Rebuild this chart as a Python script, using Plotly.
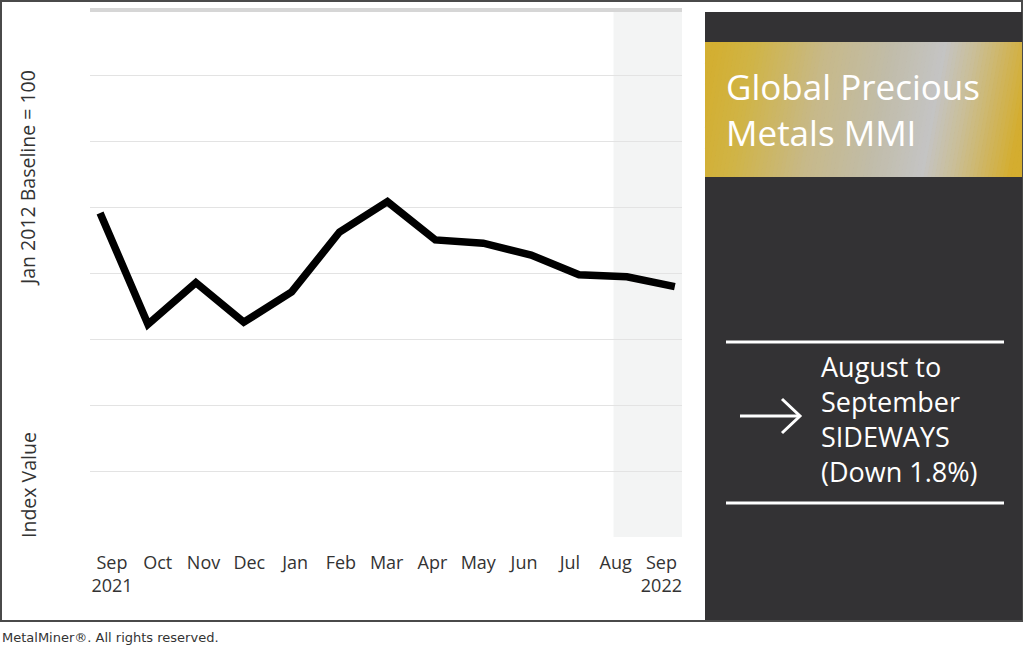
import plotly.graph_objects as go

# ---------------- data ----------------
months = ["Sep", "Oct", "Nov", "Dec", "Jan", "Feb", "Mar", "Apr", "May", "Jun", "Jul", "Aug", "Sep"]
years = ["2021", "", "", "", "", "", "", "", "", "", "", "", "2022"]
index_values = [992, 823, 886, 826, 872, 963, 1009, 951, 946, 928, 898, 895, 880]

title_text = "Global Precious<br>Metals MMI"
trend_text = "August to<br>September<br>SIDEWAYS<br>(Down 1.8%)"
footer_text = "MetalMiner®. All rights reserved."

# ---------------- geometry helpers (page pixels -> paper) ----------------
W, H = 1024, 649
PL, PR, PT, PB = 90, 682, 10, 537


def px(x):
    return (x - PL) / (PR - PL)


def py(y):
    return (PB - y) / (PB - PT)


FONT = "Open Sans"
x_idx = list(range(len(months)))
tick_text = [m + ("<br>" + y if y else "") for m, y in zip(months, years)]

fig = go.Figure()
fig.add_trace(go.Scatter(
    x=x_idx, y=index_values, mode="lines",
    line=dict(color="#000000", width=7.5),
    hoverinfo="skip", showlegend=False,
))
# invisible trace carrying the label axis
fig.add_trace(go.Scatter(
    x=x_idx, y=index_values, xaxis="x2", mode="lines",
    line=dict(color="rgba(0,0,0,0)", width=0),
    hoverinfo="skip", showlegend=False,
))

shapes = []
# outer border
shapes.append(dict(type="rect", xref="paper", yref="paper",
                   x0=px(1), x1=px(1022), y0=py(1), y1=py(621),
                   line=dict(color="#4a4a4a", width=2), fillcolor="rgba(0,0,0,0)", layer="above"))
# shaded latest-month band
shapes.append(dict(type="rect", xref="x", yref="paper",
                   x0=10.72, x1=12.2, y0=0, y1=py(12),
                   line=dict(width=0), fillcolor="#f3f4f4", layer="below"))
# thick top rule
shapes.append(dict(type="line", xref="paper", yref="paper",
                   x0=0, x1=1, y0=py(10), y1=py(10),
                   line=dict(color="#d6d6d6", width=4), layer="above"))
# dark side panel
shapes.append(dict(type="rect", xref="paper", yref="paper",
                   x0=px(705), x1=px(1022), y0=py(12), y1=py(620),
                   line=dict(width=0), fillcolor="#333234", layer="above"))

# gold / silver gradient banner built from clipped slanted strips
stops = [(0.0, (211, 175, 50)), (0.12, (208, 180, 70)), (0.35, (199, 185, 138)),
         (0.55, (193, 188, 168)), (0.72, (196, 196, 196)), (0.82, (202, 190, 150)),
         (1.0, (212, 173, 47))]


def color_at(t):
    t = max(0.0, min(1.0, t))
    for (t0, c0), (t1, c1) in zip(stops[:-1], stops[1:]):
        if t <= t1:
            f = (t - t0) / (t1 - t0) if t1 > t0 else 0
            c = [round(a + (b - a) * f) for a, b in zip(c0, c1)]
            return "rgb(%d,%d,%d)" % tuple(c)
    return "rgb(%d,%d,%d)" % stops[-1][1]


def clip_x(poly, x0, keep_greater):
    out = []
    n = len(poly)
    for i in range(n):
        cur, prev = poly[i], poly[i - 1]
        cin = cur[0] >= x0 if keep_greater else cur[0] <= x0
        pin = prev[0] >= x0 if keep_greater else prev[0] <= x0
        if cin:
            if not pin:
                t = (x0 - prev[0]) / (cur[0] - prev[0])
                out.append((x0, prev[1] + t * (cur[1] - prev[1])))
            out.append(cur)
        elif pin:
            t = (x0 - prev[0]) / (cur[0] - prev[0])
            out.append((x0, prev[1] + t * (cur[1] - prev[1])))
    return out


BX0, BX1, BY0, BY1, SL = 705, 1022, 42, 177, 24
N = 90
w = (BX1 - (BX0 - SL)) / N
for k in range(N):
    u = BX0 - SL + k * w
    poly = [(u, BY1), (u + w + 0.8, BY1), (u + w + 0.8 + SL, BY0), (u + SL, BY0)]
    poly = clip_x(poly, BX0, True)
    poly = clip_x(poly, BX1, False)
    if len(poly) < 3:
        continue
    xm = u + w / 2 + SL / 2
    col = color_at((xm - BX0) / (BX1 - BX0))
    path = "M " + " L ".join("%.5f,%.5f" % (px(a), py(b)) for a, b in poly) + " Z"
    shapes.append(dict(type="path", xref="paper", yref="paper", path=path,
                       fillcolor=col, line=dict(width=0), layer="above"))

# white rules in panel
for yy in (342, 503):
    shapes.append(dict(type="line", xref="paper", yref="paper",
                       x0=px(726), x1=px(1004), y0=py(yy), y1=py(yy),
                       line=dict(color="#ffffff", width=3), layer="above"))
# arrow
AY = 416
shapes.append(dict(type="line", xref="paper", yref="paper",
                   x0=px(740), x1=px(800), y0=py(AY), y1=py(AY),
                   line=dict(color="#ffffff", width=3), layer="above"))
shapes.append(dict(type="path", xref="paper", yref="paper",
                   path="M %.5f,%.5f L %.5f,%.5f L %.5f,%.5f" % (
                       px(782), py(AY - 17), px(800), py(AY), px(782), py(AY + 17)),
                   line=dict(color="#ffffff", width=3), layer="above"))

annotations = [
    dict(xref="paper", yref="paper", x=px(28), y=py(178), text="Jan 2012 Baseline = 100",
         textangle=-90, showarrow=False, xanchor="center", yanchor="middle",
         font=dict(family=FONT, size=19.5, color="#333333")),
    dict(xref="paper", yref="paper", x=px(28), y=py(485), text="Index Value",
         textangle=-90, showarrow=False, xanchor="center", yanchor="middle",
         font=dict(family=FONT, size=19.5, color="#333333")),
    dict(xref="paper", yref="paper", x=px(724), y=py(110), text=title_text,
         showarrow=False, xanchor="left", yanchor="middle", align="left",
         font=dict(family=FONT, size=35, color="#ffffff")),
    dict(xref="paper", yref="paper", x=px(819), y=py(419), text=trend_text,
         showarrow=False, xanchor="left", yanchor="middle", align="left",
         font=dict(family=FONT, size=27, color="#ffffff")),
    dict(xref="paper", yref="paper", x=px(0), y=py(637), text=footer_text,
         showarrow=False, xanchor="left", yanchor="middle", align="left",
         font=dict(family="DejaVu Sans", size=13, color="#333333")),
]

fig.update_layout(
    width=W, height=H,
    margin=dict(l=PL, r=W - PR, t=PT, b=H - PB),
    paper_bgcolor="#ffffff", plot_bgcolor="rgba(0,0,0,0)",
    showlegend=False,
    xaxis=dict(range=[-0.21, 12.15], showticklabels=False, showgrid=False,
               zeroline=False, showline=False, ticks=""),
    xaxis2=dict(overlaying="x", side="bottom", range=[-0.48, 12.45],
                tickmode="array", tickvals=x_idx, ticktext=tick_text,
                showgrid=False, zeroline=False, showline=False,
                ticks="outside", ticklen=9, tickcolor="rgba(0,0,0,0)",
                tickfont=dict(family=FONT, size=18, color="#333333")),
    yaxis=dict(range=[500, 1300], dtick=100, tick0=500, showticklabels=False,
               showgrid=True, gridcolor="#e3e3e3", gridwidth=1,
               zeroline=False, showline=False, ticks=""),
    shapes=shapes,
    annotations=annotations,
)

fig.write_html("out.html", config={"displayModeBar": False},
               post_script="document.body.style.margin='0';")
